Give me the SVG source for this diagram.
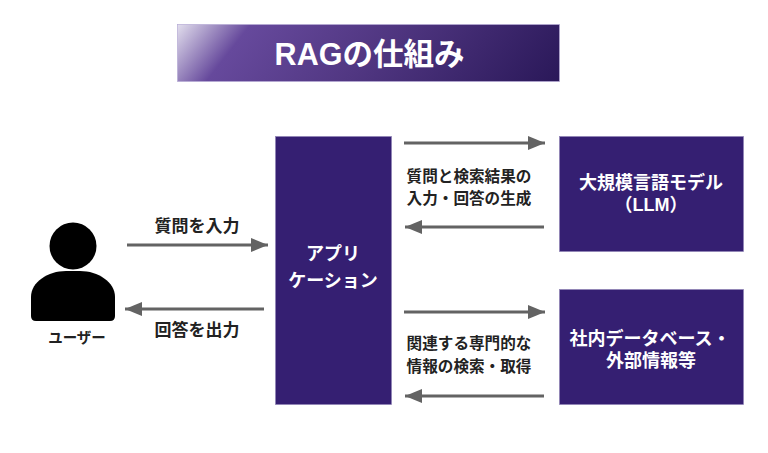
<svg xmlns="http://www.w3.org/2000/svg" width="768" height="453" viewBox="0 0 768 453">
<style>
text{font-family:"Liberation Sans","Noto Sans CJK JP",sans-serif;font-weight:700;text-anchor:middle}
.box{fill:#351f72;stroke:#8f83b5;stroke-width:.7}
.w{fill:#fff;font-size:18px}
.k{fill:#222;font-size:15.600px}
.c{stroke:#636363;stroke-width:3;fill:none;marker-end:url(#a)}
</style>
<defs>
<marker id="a" markerUnits="userSpaceOnUse" markerWidth="18" markerHeight="14" refX="17" refY="7" orient="auto"><path d="M0 0L17 7L0 14Z" fill="#636363"/></marker>
<linearGradient id="g" gradientUnits="userSpaceOnUse" x1="178" y1="25" x2="442" y2="231"><stop offset="0" stop-color="#e0dcec"/><stop offset=".17" stop-color="#66499c"/><stop offset=".5" stop-color="#513782"/><stop offset="1" stop-color="#2a1859"/></linearGradient>
</defs>
<rect width="768" height="453" fill="#fff"/>
<g id="title"><rect x="177.500" y="24.500" width="382" height="57" fill="url(#g)" stroke="#b5aad5" stroke-width=".7"/><text x="369.500" y="65" fill="#fff" font-size="30.500px">RAGの仕組み</text></g>
<g id="user"><circle cx="73" cy="246" r="23.500" fill="#000"/><path d="M31 316V297C31 282 48 271 66 271H80C98 271 115 282 115 297V316Q115 321 110 321H36Q31 321 31 316Z" fill="#000"/><text class="k" x="77" y="343" style="font-size:14.500px">ユーザー</text></g>
<g id="app"><rect class="box" x="275.500" y="136.500" width="116" height="268"/><text class="w" x="333" y="260">アプリ</text><text class="w" x="333" y="287">ケーション</text></g>
<g id="llm"><rect class="box" x="559.500" y="136.500" width="184" height="115"/><text class="w" x="651" y="189">大規模言語モデル</text><text class="w" x="651" y="211">（LLM）</text></g>
<g id="db"><rect class="box" x="559.500" y="289.500" width="184" height="115"/><text class="w" x="650" y="345">社内データベース・</text><text class="w" x="651" y="367">外部情報等</text></g>
<g id="connectors">
<line class="c" x1="127" y1="245" x2="268" y2="245"/>
<line class="c" x1="264" y1="309" x2="125" y2="309"/>
<line class="c" x1="404" y1="143" x2="545" y2="143"/>
<line class="c" x1="544" y1="227" x2="405" y2="227"/>
<line class="c" x1="404" y1="312" x2="545" y2="312"/>
<line class="c" x1="544" y1="396" x2="405" y2="396"/>
</g>
<g id="labels">
<text class="k" x="197" y="232" style="font-size:17px">質問を入力</text>
<text class="k" x="197" y="336" style="font-size:17px">回答を出力</text>
<text class="k" x="469" y="182">質問と検索結果の</text>
<text class="k" x="469" y="204">入力・回答の生成</text>
<text class="k" x="469" y="349">関連する専門的な</text>
<text class="k" x="469" y="372">情報の検索・取得</text>
</g>
</svg>
